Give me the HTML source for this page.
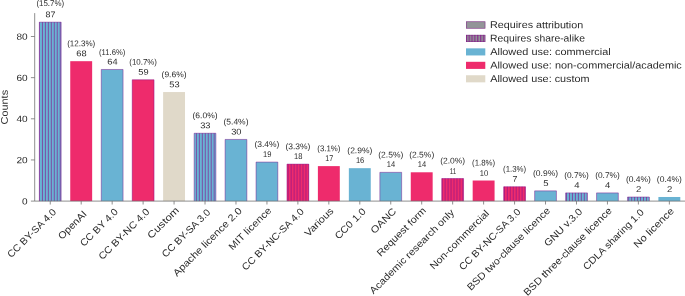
<!DOCTYPE html>
<html lang="en"><head><meta charset="utf-8"><title>Licence counts</title>
<style>html,body{margin:0;padding:0;background:#fff}body{width:685px;height:296px;overflow:hidden}svg{display:block}text{font-family:"Liberation Sans",Arial,sans-serif;fill:#2a2a2a}</style>
</head><body>
<svg width="685" height="296" viewBox="0 0 685 296">
<defs>
<pattern id="hatch" patternUnits="userSpaceOnUse" x="41.93" y="0" width="2.961" height="8"><rect x="0" y="0" width="0.85" height="8" fill="#85108a" fill-opacity="0.75"/></pattern>
<pattern id="hatchL" patternUnits="userSpaceOnUse" x="465.7" y="0" width="2.85" height="8"><rect x="0" y="0" width="1.35" height="8" fill="#85108a" fill-opacity="0.7"/></pattern>
</defs>
<rect width="685" height="296" fill="#fff"/>
<rect x="39.30" y="22.10" width="21.90" height="179.00" fill="#69b3d3"/>
<rect x="39.30" y="22.10" width="21.90" height="179.00" fill="url(#hatch)"/>
<path d="M39.35 201.10V22.15H61.15V201.10" fill="none" stroke="#85108a" stroke-width="0.6" stroke-opacity="0.75"/>
<text transform="translate(50.55 17.20) rotate(0.03)" font-size="8.3" text-anchor="middle" textLength="9.90" lengthAdjust="spacingAndGlyphs">87</text>
<text transform="translate(50.25 6.10) rotate(0.03)" font-size="8.3" text-anchor="middle" textLength="27.70" lengthAdjust="spacingAndGlyphs">(15.7%)</text>
<rect x="70.25" y="61.19" width="21.90" height="139.91" fill="#ee2b6c"/>
<text transform="translate(81.50 56.29) rotate(0.03)" font-size="8.3" text-anchor="middle" textLength="10.30" lengthAdjust="spacingAndGlyphs">68</text>
<text transform="translate(81.20 46.29) rotate(0.03)" font-size="8.3" text-anchor="middle" textLength="28.10" lengthAdjust="spacingAndGlyphs">(12.3%)</text>
<rect x="101.21" y="69.42" width="21.90" height="131.68" fill="#69b3d3"/>
<path d="M101.26 201.10V69.47H123.06V201.10" fill="none" stroke="#85108a" stroke-width="0.6" stroke-opacity="0.75"/>
<text transform="translate(112.46 64.52) rotate(0.03)" font-size="8.3" text-anchor="middle" textLength="10.30" lengthAdjust="spacingAndGlyphs">64</text>
<text transform="translate(112.16 54.52) rotate(0.03)" font-size="8.3" text-anchor="middle" textLength="26.20" lengthAdjust="spacingAndGlyphs">(11.6%)</text>
<rect x="132.17" y="79.71" width="21.90" height="121.39" fill="#ee2b6c"/>
<path d="M132.22 201.10V79.76H154.02V201.10" fill="none" stroke="#85108a" stroke-width="0.6" stroke-opacity="0.75"/>
<text transform="translate(143.42 74.81) rotate(0.03)" font-size="8.3" text-anchor="middle" textLength="10.30" lengthAdjust="spacingAndGlyphs">59</text>
<text transform="translate(143.12 64.81) rotate(0.03)" font-size="8.3" text-anchor="middle" textLength="27.70" lengthAdjust="spacingAndGlyphs">(10.7%)</text>
<rect x="163.12" y="92.05" width="21.90" height="109.05" fill="#e0d9c9"/>
<text transform="translate(174.37 87.15) rotate(0.03)" font-size="8.3" text-anchor="middle" textLength="10.30" lengthAdjust="spacingAndGlyphs">53</text>
<text transform="translate(174.07 77.15) rotate(0.03)" font-size="8.3" text-anchor="middle" textLength="25.00" lengthAdjust="spacingAndGlyphs">(9.6%)</text>
<rect x="194.07" y="133.20" width="21.90" height="67.90" fill="#69b3d3"/>
<rect x="194.07" y="133.20" width="21.90" height="67.90" fill="url(#hatch)"/>
<path d="M194.12 201.10V133.25H215.92V201.10" fill="none" stroke="#85108a" stroke-width="0.6" stroke-opacity="0.75"/>
<text transform="translate(205.32 128.30) rotate(0.03)" font-size="8.3" text-anchor="middle" textLength="10.30" lengthAdjust="spacingAndGlyphs">33</text>
<text transform="translate(205.02 118.30) rotate(0.03)" font-size="8.3" text-anchor="middle" textLength="25.00" lengthAdjust="spacingAndGlyphs">(6.0%)</text>
<rect x="225.03" y="139.38" width="21.90" height="61.73" fill="#69b3d3"/>
<path d="M225.08 201.10V139.43H246.88V201.10" fill="none" stroke="#85108a" stroke-width="0.6" stroke-opacity="0.75"/>
<text transform="translate(236.28 134.47) rotate(0.03)" font-size="8.3" text-anchor="middle" textLength="10.30" lengthAdjust="spacingAndGlyphs">30</text>
<text transform="translate(235.98 124.47) rotate(0.03)" font-size="8.3" text-anchor="middle" textLength="25.00" lengthAdjust="spacingAndGlyphs">(5.4%)</text>
<rect x="255.99" y="162.01" width="21.90" height="39.09" fill="#69b3d3"/>
<path d="M256.04 201.10V162.06H277.83V201.10" fill="none" stroke="#85108a" stroke-width="0.6" stroke-opacity="0.75"/>
<text transform="translate(267.24 157.11) rotate(0.03)" font-size="8.3" text-anchor="middle" textLength="8.40" lengthAdjust="spacingAndGlyphs">19</text>
<text transform="translate(266.94 147.11) rotate(0.03)" font-size="8.3" text-anchor="middle" textLength="25.00" lengthAdjust="spacingAndGlyphs">(3.4%)</text>
<rect x="286.94" y="164.06" width="21.90" height="37.04" fill="#ee2b6c"/>
<rect x="286.94" y="164.06" width="21.90" height="37.04" fill="url(#hatch)"/>
<path d="M286.99 201.10V164.12H308.79V201.10" fill="none" stroke="#85108a" stroke-width="0.6" stroke-opacity="0.75"/>
<text transform="translate(298.19 159.16) rotate(0.03)" font-size="8.3" text-anchor="middle" textLength="8.40" lengthAdjust="spacingAndGlyphs">18</text>
<text transform="translate(297.89 149.16) rotate(0.03)" font-size="8.3" text-anchor="middle" textLength="25.00" lengthAdjust="spacingAndGlyphs">(3.3%)</text>
<rect x="317.89" y="166.12" width="21.90" height="34.98" fill="#ee2b6c"/>
<text transform="translate(329.14 161.22) rotate(0.03)" font-size="8.3" text-anchor="middle" textLength="8.00" lengthAdjust="spacingAndGlyphs">17</text>
<text transform="translate(328.84 151.22) rotate(0.03)" font-size="8.3" text-anchor="middle" textLength="23.10" lengthAdjust="spacingAndGlyphs">(3.1%)</text>
<rect x="348.85" y="168.18" width="21.90" height="32.92" fill="#69b3d3"/>
<text transform="translate(360.10 163.28) rotate(0.03)" font-size="8.3" text-anchor="middle" textLength="8.40" lengthAdjust="spacingAndGlyphs">16</text>
<text transform="translate(359.80 153.28) rotate(0.03)" font-size="8.3" text-anchor="middle" textLength="25.00" lengthAdjust="spacingAndGlyphs">(2.9%)</text>
<rect x="379.81" y="172.29" width="21.90" height="28.80" fill="#69b3d3"/>
<path d="M379.86 201.10V172.34H401.65V201.10" fill="none" stroke="#85108a" stroke-width="0.6" stroke-opacity="0.75"/>
<text transform="translate(391.06 167.39) rotate(0.03)" font-size="8.3" text-anchor="middle" textLength="8.40" lengthAdjust="spacingAndGlyphs">14</text>
<text transform="translate(390.75 157.39) rotate(0.03)" font-size="8.3" text-anchor="middle" textLength="25.00" lengthAdjust="spacingAndGlyphs">(2.5%)</text>
<rect x="410.76" y="172.29" width="21.90" height="28.80" fill="#ee2b6c"/>
<text transform="translate(422.01 167.39) rotate(0.03)" font-size="8.3" text-anchor="middle" textLength="8.40" lengthAdjust="spacingAndGlyphs">14</text>
<text transform="translate(421.71 157.39) rotate(0.03)" font-size="8.3" text-anchor="middle" textLength="25.00" lengthAdjust="spacingAndGlyphs">(2.5%)</text>
<rect x="441.71" y="178.47" width="21.90" height="22.63" fill="#ee2b6c"/>
<rect x="441.71" y="178.47" width="21.90" height="22.63" fill="url(#hatch)"/>
<path d="M441.76 201.10V178.52H463.56V201.10" fill="none" stroke="#85108a" stroke-width="0.6" stroke-opacity="0.75"/>
<text transform="translate(452.96 173.57) rotate(0.03)" font-size="8.3" text-anchor="middle" textLength="6.50" lengthAdjust="spacingAndGlyphs">11</text>
<text transform="translate(452.66 163.57) rotate(0.03)" font-size="8.3" text-anchor="middle" textLength="25.00" lengthAdjust="spacingAndGlyphs">(2.0%)</text>
<rect x="472.67" y="180.52" width="21.90" height="20.58" fill="#ee2b6c"/>
<text transform="translate(483.92 175.62) rotate(0.03)" font-size="8.3" text-anchor="middle" textLength="8.40" lengthAdjust="spacingAndGlyphs">10</text>
<text transform="translate(483.62 165.62) rotate(0.03)" font-size="8.3" text-anchor="middle" textLength="23.10" lengthAdjust="spacingAndGlyphs">(1.8%)</text>
<rect x="503.63" y="186.70" width="21.90" height="14.40" fill="#ee2b6c"/>
<rect x="503.63" y="186.70" width="21.90" height="14.40" fill="url(#hatch)"/>
<path d="M503.68 201.10V186.75H525.48V201.10" fill="none" stroke="#85108a" stroke-width="0.6" stroke-opacity="0.75"/>
<text transform="translate(514.88 181.80) rotate(0.03)" font-size="8.3" text-anchor="middle" textLength="4.90" lengthAdjust="spacingAndGlyphs">7</text>
<text transform="translate(514.58 171.80) rotate(0.03)" font-size="8.3" text-anchor="middle" textLength="23.10" lengthAdjust="spacingAndGlyphs">(1.3%)</text>
<rect x="534.58" y="190.81" width="21.90" height="10.29" fill="#69b3d3"/>
<path d="M534.63 201.10V190.86H556.43V201.10" fill="none" stroke="#85108a" stroke-width="0.6" stroke-opacity="0.75"/>
<text transform="translate(545.83 185.91) rotate(0.03)" font-size="8.3" text-anchor="middle" textLength="5.30" lengthAdjust="spacingAndGlyphs">5</text>
<text transform="translate(545.53 175.91) rotate(0.03)" font-size="8.3" text-anchor="middle" textLength="25.00" lengthAdjust="spacingAndGlyphs">(0.9%)</text>
<rect x="565.53" y="192.87" width="21.90" height="8.23" fill="#69b3d3"/>
<rect x="565.53" y="192.87" width="21.90" height="8.23" fill="url(#hatch)"/>
<path d="M565.58 201.10V192.92H587.38V201.10" fill="none" stroke="#85108a" stroke-width="0.6" stroke-opacity="0.75"/>
<text transform="translate(576.78 187.97) rotate(0.03)" font-size="8.3" text-anchor="middle" textLength="5.30" lengthAdjust="spacingAndGlyphs">4</text>
<text transform="translate(576.49 177.97) rotate(0.03)" font-size="8.3" text-anchor="middle" textLength="24.60" lengthAdjust="spacingAndGlyphs">(0.7%)</text>
<rect x="596.49" y="192.87" width="21.90" height="8.23" fill="#69b3d3"/>
<path d="M596.54 201.10V192.92H618.34V201.10" fill="none" stroke="#85108a" stroke-width="0.6" stroke-opacity="0.75"/>
<text transform="translate(607.74 187.97) rotate(0.03)" font-size="8.3" text-anchor="middle" textLength="5.30" lengthAdjust="spacingAndGlyphs">4</text>
<text transform="translate(607.44 177.97) rotate(0.03)" font-size="8.3" text-anchor="middle" textLength="24.60" lengthAdjust="spacingAndGlyphs">(0.7%)</text>
<rect x="627.44" y="196.98" width="21.90" height="4.12" fill="#69b3d3"/>
<rect x="627.44" y="196.98" width="21.90" height="4.12" fill="url(#hatch)"/>
<path d="M627.49 201.10V197.03H649.29V201.10" fill="none" stroke="#85108a" stroke-width="0.6" stroke-opacity="0.75"/>
<text transform="translate(638.69 192.08) rotate(0.03)" font-size="8.3" text-anchor="middle" textLength="5.30" lengthAdjust="spacingAndGlyphs">2</text>
<text transform="translate(638.39 182.08) rotate(0.03)" font-size="8.3" text-anchor="middle" textLength="25.00" lengthAdjust="spacingAndGlyphs">(0.4%)</text>
<rect x="658.40" y="196.98" width="21.90" height="4.12" fill="#69b3d3"/>
<text transform="translate(669.65 192.08) rotate(0.03)" font-size="8.3" text-anchor="middle" textLength="5.30" lengthAdjust="spacingAndGlyphs">2</text>
<text transform="translate(669.35 182.08) rotate(0.03)" font-size="8.3" text-anchor="middle" textLength="25.00" lengthAdjust="spacingAndGlyphs">(0.4%)</text>
<g stroke="#6a6a6a" stroke-width="0.75" fill="none">
<path d="M34.70 13.1V201.10H685"/>
<path d="M34.70 201.10h-3.8"/>
<path d="M34.70 159.95h-3.8"/>
<path d="M34.70 118.80h-3.8"/>
<path d="M34.70 77.65h-3.8"/>
<path d="M34.70 36.50h-3.8"/>
<path d="M50.25 201.10v3.4"/>
<path d="M81.20 201.10v3.4"/>
<path d="M112.16 201.10v3.4"/>
<path d="M143.12 201.10v3.4"/>
<path d="M174.07 201.10v3.4"/>
<path d="M205.02 201.10v3.4"/>
<path d="M235.98 201.10v3.4"/>
<path d="M266.94 201.10v3.4"/>
<path d="M297.89 201.10v3.4"/>
<path d="M328.84 201.10v3.4"/>
<path d="M359.80 201.10v3.4"/>
<path d="M390.75 201.10v3.4"/>
<path d="M421.71 201.10v3.4"/>
<path d="M452.66 201.10v3.4"/>
<path d="M483.62 201.10v3.4"/>
<path d="M514.58 201.10v3.4"/>
<path d="M545.53 201.10v3.4"/>
<path d="M576.49 201.10v3.4"/>
<path d="M607.44 201.10v3.4"/>
<path d="M638.39 201.10v3.4"/>
<path d="M669.35 201.10v3.4"/>
</g>
<text transform="translate(27.6 204.40) rotate(0.03)" font-size="9" text-anchor="end" textLength="5.60" lengthAdjust="spacingAndGlyphs">0</text>
<text transform="translate(27.6 163.25) rotate(0.03)" font-size="9" text-anchor="end" textLength="11.20" lengthAdjust="spacingAndGlyphs">20</text>
<text transform="translate(27.6 122.10) rotate(0.03)" font-size="9" text-anchor="end" textLength="11.20" lengthAdjust="spacingAndGlyphs">40</text>
<text transform="translate(27.6 80.95) rotate(0.03)" font-size="9" text-anchor="end" textLength="11.20" lengthAdjust="spacingAndGlyphs">60</text>
<text transform="translate(27.6 39.80) rotate(0.03)" font-size="9" text-anchor="end" textLength="11.20" lengthAdjust="spacingAndGlyphs">80</text>
<text transform="translate(7.8 107.2) rotate(-89.97)" font-size="9.7" text-anchor="middle" textLength="34.6" lengthAdjust="spacingAndGlyphs">Counts</text>
<text transform="translate(56.83 212.68) rotate(-45)" font-size="9.8" text-anchor="end" textLength="64.51" lengthAdjust="spacingAndGlyphs">CC BY-SA 4.0</text>
<text transform="translate(87.33 214.63) rotate(-45)" font-size="9.8" text-anchor="end" textLength="35.99" lengthAdjust="spacingAndGlyphs">OpenAI</text>
<text transform="translate(118.69 212.43) rotate(-45)" font-size="9.8" text-anchor="end" textLength="49.01" lengthAdjust="spacingAndGlyphs">CC BY 4.0</text>
<text transform="translate(150.24 212.43) rotate(-45)" font-size="9.8" text-anchor="end" textLength="67.68" lengthAdjust="spacingAndGlyphs">CC BY-NC 4.0</text>
<text transform="translate(179.57 210.90) rotate(-45)" font-size="9.8" text-anchor="end" textLength="39.99" lengthAdjust="spacingAndGlyphs">Custom</text>
<text transform="translate(210.95 212.93) rotate(-45)" font-size="9.8" text-anchor="end" textLength="63.80" lengthAdjust="spacingAndGlyphs">CC BY-SA 3.0</text>
<text transform="translate(242.50 211.52) rotate(-45)" font-size="9.8" text-anchor="end" textLength="92.63" lengthAdjust="spacingAndGlyphs">Apache licence 2.0</text>
<text transform="translate(272.16 211.03) rotate(-45)" font-size="9.8" text-anchor="end" textLength="56.22" lengthAdjust="spacingAndGlyphs">MIT licence</text>
<text transform="translate(304.66 212.18) rotate(-45)" font-size="9.8" text-anchor="end" textLength="83.19" lengthAdjust="spacingAndGlyphs">CC BY-NC-SA 4.0</text>
<text transform="translate(334.07 211.52) rotate(-45)" font-size="9.8" text-anchor="end" textLength="36.25" lengthAdjust="spacingAndGlyphs">Various</text>
<text transform="translate(366.45 212.05) rotate(-45)" font-size="9.8" text-anchor="end" textLength="39.35" lengthAdjust="spacingAndGlyphs">CC0 1.0</text>
<text transform="translate(396.78 212.03) rotate(-45)" font-size="9.8" text-anchor="end" textLength="31.35" lengthAdjust="spacingAndGlyphs">OANC</text>
<text transform="translate(426.66 211.15) rotate(-45)" font-size="9.8" text-anchor="end" textLength="64.89" lengthAdjust="spacingAndGlyphs">Request form</text>
<text transform="translate(454.82 213.25) rotate(-45)" font-size="9.8" text-anchor="end" textLength="114.87" lengthAdjust="spacingAndGlyphs">Academic research only</text>
<text transform="translate(489.75 213.93) rotate(-45)" font-size="9.8" text-anchor="end" textLength="79.32" lengthAdjust="spacingAndGlyphs">Non-commercial</text>
<text transform="translate(521.22 212.55) rotate(-45)" font-size="9.8" text-anchor="end" textLength="82.41" lengthAdjust="spacingAndGlyphs">CC BY-NC-SA 3.0</text>
<text transform="translate(550.83 211.30) rotate(-45)" font-size="9.8" text-anchor="end" textLength="112.82" lengthAdjust="spacingAndGlyphs">BSD two-clause licence</text>
<text transform="translate(582.96 212.17) rotate(-45)" font-size="9.8" text-anchor="end" textLength="49.33" lengthAdjust="spacingAndGlyphs">GNU v.3.0</text>
<text transform="translate(612.44 211.30) rotate(-45)" font-size="9.8" text-anchor="end" textLength="120.04" lengthAdjust="spacingAndGlyphs">BSD three-clause licence</text>
<text transform="translate(644.52 212.93) rotate(-45)" font-size="9.8" text-anchor="end" textLength="81.25" lengthAdjust="spacingAndGlyphs">CDLA sharing 1.0</text>
<text transform="translate(674.60 211.55) rotate(-45)" font-size="9.8" text-anchor="end" textLength="52.40" lengthAdjust="spacingAndGlyphs">No licence</text>
<rect x="466.00" y="21.45" width="19.30" height="7.10" fill="#939598"/>
<rect x="466.30" y="21.75" width="18.70" height="6.50" fill="none" stroke="#85108a" stroke-width="0.6" stroke-opacity="0.7"/>
<text transform="translate(490.00 28.10) rotate(0.03)" font-size="9.8" textLength="93.20" lengthAdjust="spacingAndGlyphs">Requires attribution</text>
<rect x="466.00" y="34.90" width="19.30" height="7.10" fill="#939598"/>
<rect x="466.00" y="34.90" width="19.30" height="7.10" fill="url(#hatchL)"/>
<rect x="466.30" y="35.20" width="18.70" height="6.50" fill="none" stroke="#85108a" stroke-width="0.6" stroke-opacity="0.7"/>
<text transform="translate(490.00 41.55) rotate(0.03)" font-size="9.8" textLength="94.90" lengthAdjust="spacingAndGlyphs">Requires share-alike</text>
<rect x="466.00" y="48.35" width="19.30" height="7.10" fill="#69b3d3"/>
<text transform="translate(490.20 55.00) rotate(0.03)" font-size="9.8" textLength="120.50" lengthAdjust="spacingAndGlyphs">Allowed use: commercial</text>
<rect x="466.00" y="61.80" width="19.30" height="7.10" fill="#ee2b6c"/>
<text transform="translate(490.20 68.45) rotate(0.03)" font-size="9.8" textLength="191.60" lengthAdjust="spacingAndGlyphs">Allowed use: non-commercial/academic</text>
<rect x="466.00" y="75.25" width="19.30" height="7.10" fill="#e0d9c9"/>
<text transform="translate(490.20 81.90) rotate(0.03)" font-size="9.8" textLength="99.40" lengthAdjust="spacingAndGlyphs">Allowed use: custom</text>
</svg>
</body></html>
